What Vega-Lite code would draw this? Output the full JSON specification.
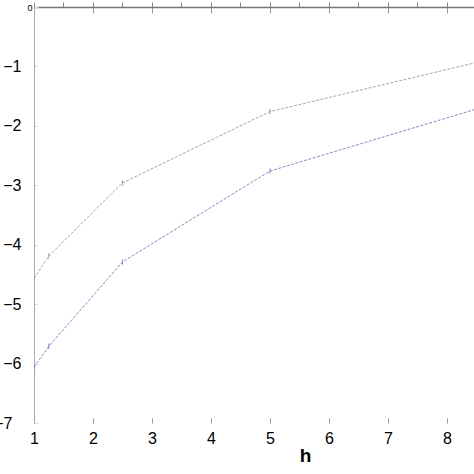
{
  "$schema": "https://vega.github.io/schema/vega-lite/v6.json",
  "width": 440,
  "height": 416,
  "autosize": "none",
  "padding": {"left": 34, "top": 7, "right": 0, "bottom": 51},
  "background": "white",
  "data": {
    "values": [
      {"series": "upper", "h": 1, "value": -4.57},
      {"series": "upper", "h": 1.25, "value": -4.19},
      {"series": "upper", "h": 2.5, "value": -2.96},
      {"series": "upper", "h": 5, "value": -1.76},
      {"series": "upper", "h": 10, "value": -0.58},
      {"series": "lower", "h": 1, "value": -6.06},
      {"series": "lower", "h": 1.25, "value": -5.71},
      {"series": "lower", "h": 2.5, "value": -4.29},
      {"series": "lower", "h": 5, "value": -2.76},
      {"series": "lower", "h": 10, "value": -1.27}
    ]
  },
  "layer": [
    {
      "mark": {"type": "line", "clip": true, "strokeWidth": 0.8, "strokeDash": [3, 1.5]},
      "encoding": {
        "x": {
          "field": "h", "type": "quantitative",
          "scale": {"domain": [1, 8.46], "nice": false, "zero": false},
          "axis": {
            "orient": "bottom", "title": "h", "domain": false, "grid": false,
            "values": [1, 2, 3, 4, 5, 6, 7, 8], "format": "d",
            "tickSize": -5, "tickColor": "#999", "labelPadding": 12,
            "labelFontSize": 16, "labelFont": "Liberation Sans", "labelColor": "black",
            "labelFlush": false,
            "titleFont": "Liberation Sans", "titleFontSize": 19, "titleFontWeight": "bold",
            "titleX": 271, "titleY": 38, "titleBaseline": "alphabetic", "titleColor": "black"
          }
        },
        "y": {
          "field": "value", "type": "quantitative",
          "scale": {"domain": [-7, 0], "nice": false},
          "axis": {
            "title": null, "grid": false, "domainColor": "#aaa",
            "values": [0, -1, -2, -3, -4, -5, -6, -7], "format": "d",
            "tickSize": -4, "tickColor": "#ddd",
            "labelFont": "Liberation Sans", "labelColor": "black",
            "labelFontSize": {"condition": {"test": "datum.value == 0", "value": 9}, "value": 16},
            "labelPadding": {"condition": [
              {"test": "datum.value == 0", "value": 6},
              {"test": "datum.value == -7", "value": 26}
            ], "value": 17},
            "labelFlush": false
          }
        },
        "detail": {"field": "series"},
        "color": {
          "field": "series", "type": "nominal",
          "scale": {"domain": ["upper", "lower"], "range": ["#78a078", "#6a6ab8"]},
          "legend": null
        }
      }
    },
    {
      "mark": {"type": "point", "shape": "M0,-1L0,1", "size": 30, "strokeWidth": 1.2, "clip": true},
      "transform": [{"filter": "datum.h <= 5"}],
      "encoding": {
        "x": {"field": "h", "type": "quantitative"},
        "y": {"field": "value", "type": "quantitative"},
        "color": {"field": "series", "type": "nominal", "legend": null}
      }
    },
    {
      "mark": {"type": "rule", "opacity": 0},
      "encoding": {
        "x": {
          "datum": 1, "type": "quantitative",
          "axis": {
            "orient": "top", "title": null, "labels": false, "grid": false,
            "values": [1, 2, 3, 4, 5, 6, 7, 8],
            "domainColor": "#777", "domainWidth": 1.5,
            "tickSize": -6, "tickColor": "#999"
          }
        }
      }
    }
  ],
  "resolve": {"axis": {"x": "independent"}},
  "config": {"view": {"stroke": null}}
}
